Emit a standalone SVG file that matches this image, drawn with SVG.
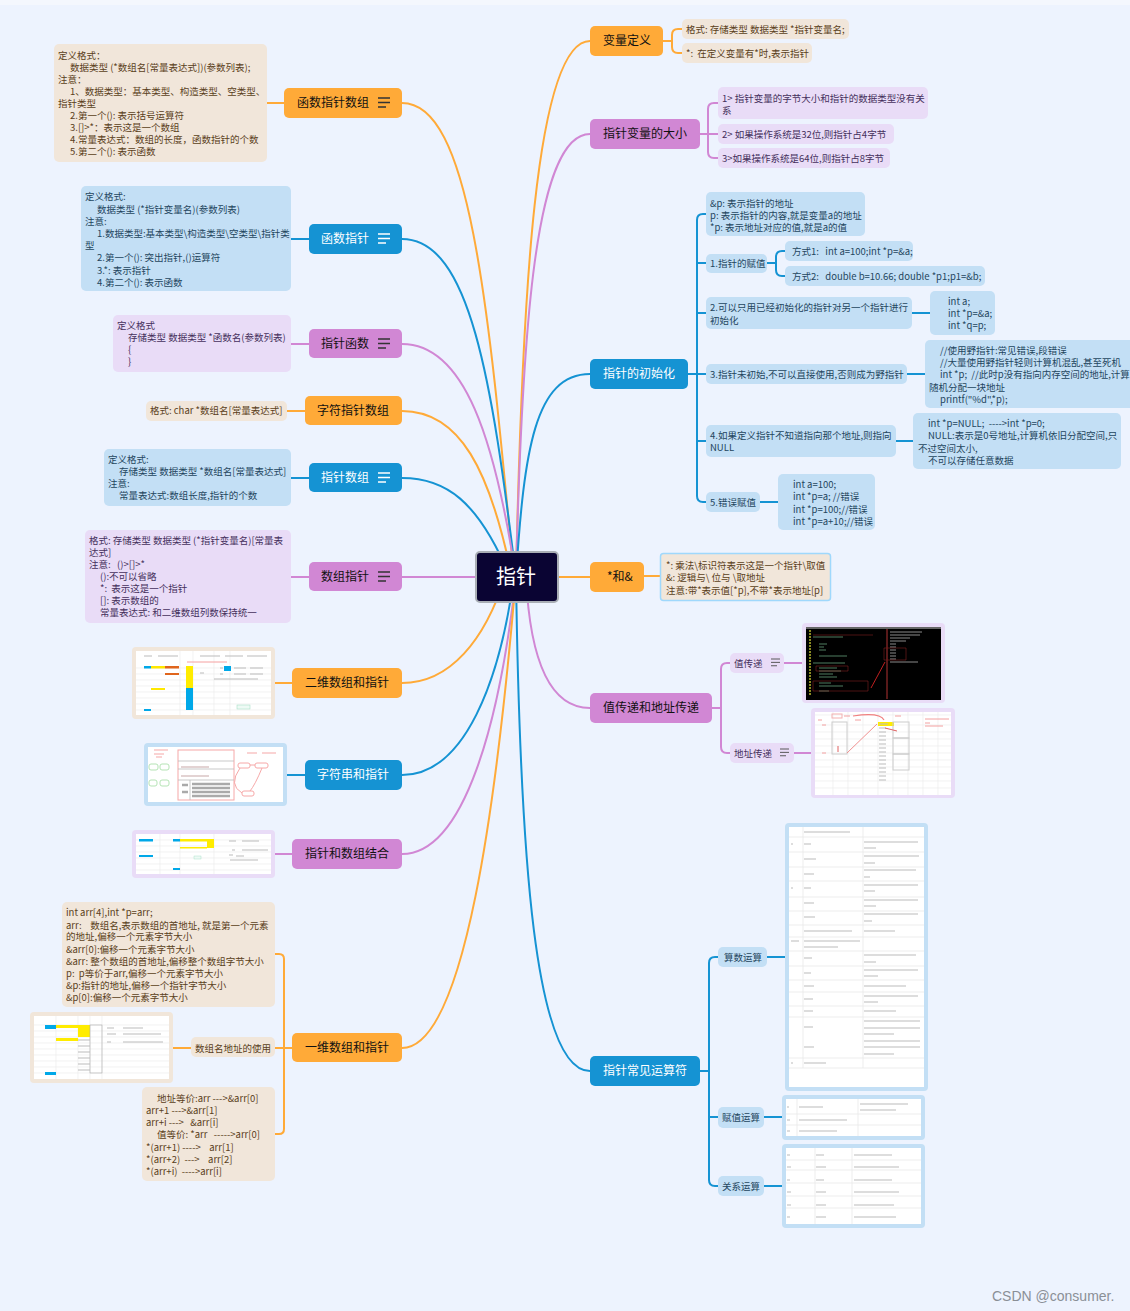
<svg xmlns="http://www.w3.org/2000/svg" width="1130" height="1311" viewBox="0 0 1130 1311">
<style>
text{font-family:"Noto Sans CJK SC","Noto Sans",sans-serif;white-space:pre}
.n{font-size:12px;fill:#111}
.w{font-size:12px;fill:#fff}
.d{font-size:9.5px}
.br{fill:#5a4020}.bl{fill:#24465e}.pu{fill:#45305c}
.fb{fill:#f1e6da}.fl{fill:#c3dff5}.fp{fill:#e9dcf7}
.no{fill:#ffaa38}.nb{fill:#1593d3}.np{fill:#d187d4}
.c{fill:none;stroke-width:2;stroke-linecap:round}
.so{stroke:#ffaa38}.sb{stroke:#1593d3}.sp{stroke:#d187d4}
.ic{stroke-width:1.3;fill:none}
.tb{fill:none;stroke:#bdbdbd;stroke-width:1.3;opacity:.7}
.gr{fill:none;stroke:#ececec;stroke-width:.7}
</style>
<defs>
<filter id="bl" x="-5%" y="-5%" width="110%" height="110%"><feGaussianBlur stdDeviation=".45"/></filter>
<path id="icon" d="M0 0h12M0 4.5h12M0 9h8"/>
</defs>
<rect width="1130" height="1311" fill="#edf3fe"/>
<rect width="1130" height="5" fill="#f4f7fd"/>

<g id="connectors">
<path class="c so" d="M402 103C470 103 488 300 514 577"/>
<path class="c sb" d="M402 239C470 239 492 380 516 577"/>
<path class="c sp" d="M402 344C465 344 495 440 516 577"/>
<path class="c so" d="M402 411C460 411 490 470 512 577"/>
<path class="c sb" d="M402 478C445 478 478 500 510 577"/>
<path class="c sp" d="M402 577H516"/>
<path class="c so" d="M402 683C450 683 485 640 505 577"/>
<path class="c sb" d="M402 775C465 775 500 680 514 577"/>
<path class="c sp" d="M402 854C465 854 500 720 516 577"/>
<path class="c so" d="M402 1048C465 1048 497 800 516 577"/>
<path class="c so" d="M516 577C522 300 535 41 590 41"/>
<path class="c sp" d="M516 577C522 330 535 134 590 134"/>
<path class="c sb" d="M516 577C524 450 535 374 590 374"/>
<path class="c so" d="M516 577H590"/>
<path class="c sp" d="M526 577C530 660 550 708 590 708"/>
<path class="c sb" d="M516 577C520 860 535 1071 590 1071"/>

<g class="c so">
<path d="M663 41H672M682 29H678Q672 29 672 35V47Q672 53 678 53H682"/>
<path d="M267 103H284M287 411H305M275 683H292M644 576H660"/>
<path d="M275 954H279Q284 954 284 959V1129Q284 1134 279 1134H275M173 1048H191M275 1048H292"/>
</g>
<g class="c sp">
<path d="M700 134H718M718 103H714Q708 103 708 109V152Q708 158 714 158H718"/>
<path d="M291 344H309M291 577H309M275 854H292"/>
<path d="M712 708H721M730 663H727Q721 663 721 669V747Q721 753 727 753H730M784 663H803M794 753H812"/>
</g>
<g class="c sb">
<path d="M291 239H309M291 478H309M287 775H305"/>
<path d="M688 374H706M706 214H703Q697 214 697 220V496Q697 502 703 502H706M697 263H706M697 313H706M697 441H706"/>
<path d="M767 263H776M785 251H782Q776 251 776 257V270Q776 276 782 276H785"/>
<path d="M912 313H930M907 374H925M896 441H913M760 502H778"/>
<path d="M700 1071H709M718 957H715Q709 957 709 963V1180Q709 1186 715 1186H718M709 1117H718M767 957H786M764 1117H782M764 1186H782"/>
</g>
</g>

<g id="root">
<rect x="476" y="552" width="82" height="50" rx="4" fill="#0a0433" stroke="#a9aeb5" stroke-width="2"/>
<text x="496" y="584" font-size="20" fill="#fff">指针</text>
</g>

<g id="n-hszzsz">
<rect class="fb" x="54" y="44" width="213" height="118" rx="5"/>
<g class="d br">
<text x="58" y="59">定义格式：</text>
<text x="70" y="71">数据类型 (*数组名[常量表达式])(参数列表);</text>
<text x="58" y="83">注意：</text>
<text x="70" y="95">1、数据类型：基本类型、构造类型、空类型、</text>
<text x="58" y="107">指针类型</text>
<text x="70" y="119">2.第一个(): 表示括号运算符</text>
<text x="70" y="131">3.[]&gt;*：表示这是一个数组</text>
<text x="70" y="143">4.常量表达式：数组的长度，函数指针的个数</text>
<text x="70" y="155">5.第二个(): 表示函数</text>
</g>
<rect class="no" x="284" y="88" width="118" height="30" rx="5"/>
<text class="n" x="297" y="107">函数指针数组</text>
<use href="#icon" x="378" y="98" class="ic" stroke="#333"/>
</g>

<g id="n-hszz">
<rect class="fl" x="81" y="186" width="210" height="105" rx="5"/>
<g class="d bl">
<text x="85" y="200">定义格式:</text>
<text x="97" y="213">数据类型 (*指针变量名)(参数列表)</text>
<text x="85" y="225">注意:</text>
<text x="97" y="237">1.数据类型:基本类型\构造类型\空类型\指针类</text>
<text x="85" y="249">型</text>
<text x="97" y="261">2.第一个(): 突出指针,()运算符</text>
<text x="97" y="274">3.*: 表示指针</text>
<text x="97" y="286">4.第二个(): 表示函数</text>
</g>
<rect class="nb" x="309" y="224" width="93" height="30" rx="5"/>
<text class="w" x="321" y="243">函数指针</text>
<use href="#icon" x="378" y="234" class="ic" stroke="#fff"/>
</g>

<g id="n-zzhs">
<rect class="fp" x="113" y="315" width="178" height="57" rx="5"/>
<g class="d pu">
<text x="117" y="329">定义格式</text>
<text x="128" y="341">存储类型 数据类型 *函数名(参数列表)</text>
<text x="128" y="353">{</text>
<text x="128" y="365">}</text>
</g>
<rect class="np" x="309" y="329" width="93" height="29" rx="5"/>
<text class="n" x="321" y="348">指针函数</text>
<use href="#icon" x="378" y="339" class="ic" stroke="#333"/>
</g>

<g id="n-zfzzsz">
<rect class="fb" x="146" y="401" width="141" height="20" rx="5"/>
<text class="d br" x="150" y="414">格式: char *数组名[常量表达式]</text>
<rect class="no" x="305" y="396" width="97" height="29" rx="5"/>
<text class="n" x="317" y="415">字符指针数组</text>
</g>

<g id="n-zzsz">
<rect class="fl" x="104" y="449" width="187" height="57" rx="5"/>
<g class="d bl">
<text x="108" y="463">定义格式:</text>
<text x="119" y="475">存储类型 数据类型 *数组名[常量表达式]</text>
<text x="108" y="487">注意:</text>
<text x="119" y="499">常量表达式:数组长度,指针的个数</text>
</g>
<rect class="nb" x="309" y="463" width="93" height="29" rx="5"/>
<text class="w" x="321" y="482">指针数组</text>
<use href="#icon" x="378" y="473" class="ic" stroke="#fff"/>
</g>

<g id="n-szzz">
<rect class="fp" x="85" y="530" width="206" height="93" rx="5"/>
<g class="d pu">
<text x="89" y="544">格式: 存储类型 数据类型 (*指针变量名)[常量表</text>
<text x="89" y="556">达式]</text>
<text x="89" y="568">注意:   ()&gt;[]&gt;*</text>
<text x="100" y="580">():不可以省略</text>
<text x="100" y="592">*:  表示这是一个指针</text>
<text x="100" y="604">[]: 表示数组的</text>
<text x="100" y="616">常量表达式: 和二维数组列数保持统一</text>
</g>
<rect class="np" x="309" y="562" width="93" height="29" rx="5"/>
<text class="n" x="321" y="581">数组指针</text>
<use href="#icon" x="378" y="572" class="ic" stroke="#333"/>
</g>

<g id="n-ewsz">
<rect class="fb" x="132" y="647" width="143" height="72" rx="4"/>
<rect x="136" y="651" width="135" height="64" fill="#fff"/>
<g filter="url(#bl)">
<path class="gr" d="M136 668h135M136 674h135M136 680h135M136 686h135M136 692h135M136 698h135M136 704h135M136 710h135M180 651v64M193 651v64M214 651v64M230 651v64"/>
<path class="tb" d="M144 656h8M158 656h20M200 656h20M225 656h18M247 656h20M200 673h4M220 668h3M234 668h12M250 668h13M220 674h3M234 674h12M250 674h13M214 679h44"/>
<rect x="144" y="666" width="7" height="2.5" fill="#00a8e8"/><rect x="151" y="666" width="14" height="2.5" fill="#ffe800"/><rect x="165" y="666" width="14" height="2.5" fill="#e0651c"/><rect x="165" y="673" width="14" height="2" fill="#e0651c"/>
<rect x="151" y="688" width="14" height="2" fill="#ffe800"/>
<rect x="186" y="666" width="7" height="22" fill="#ffec00"/><rect x="186" y="688" width="7" height="22" fill="#00a8e8"/>
<rect x="224" y="666" width="7" height="5" fill="#00a8e8"/>
<rect x="144" y="709" width="7" height="2" fill="#00a8e8"/>
<rect x="237" y="705" width="13" height="4" fill="#eefaf5" stroke="#9ddcc0" stroke-width=".5"/>
<path d="M187 662h40" stroke="#f5a0a0" stroke-width="1"/>
</g>
<rect class="no" x="292" y="668" width="110" height="30" rx="5"/>
<text class="n" x="305" y="687">二维数组和指针</text>
</g>

<g id="n-zfc">
<rect class="fl" x="144" y="743" width="143" height="63" rx="4"/>
<rect x="148" y="747" width="135" height="55" fill="#fff"/>
<g filter="url(#bl)">
<rect x="178" y="750" width="56" height="50" fill="none" stroke="#f6a8a8"/>
<path d="M178 761h56M178 769h56M178 780h56M190 780v20" stroke="#bbb" stroke-width=".8" fill="none"/>
<path d="M192 784h38M192 788h38M192 792h38M192 796h38M182 785h6M182 792h6" stroke="#aaa" stroke-width="2.4" fill="none"/>
<path d="M181 767h28M181 776h28" stroke="#c8a8a8" stroke-width="1.2"/>
<path d="M154 750h14M154 754h10M156 757h6M247 753h10M262 753h14" stroke="#f6a8a8" stroke-width="1.2"/>
<g fill="none" stroke="#b5e3b5" stroke-width="1"><rect x="149" y="764" width="9" height="6" rx="2"/><rect x="160" y="764" width="9" height="6" rx="2"/><rect x="149" y="780" width="8" height="6" rx="2"/><rect x="160" y="780" width="9" height="6" rx="2"/></g>
<g fill="none" stroke="#f6a8a8" stroke-width="1"><rect x="238" y="763" width="12" height="5" rx="2"/><rect x="255" y="763" width="13" height="5" rx="2"/><rect x="242" y="791" width="12" height="5" rx="2"/><path d="M240 768Q228 785 242 793M255 765H250M262 768Q255 785 250 791"/></g>
</g>
<rect class="nb" x="305" y="760" width="97" height="30" rx="5"/>
<text class="w" x="317" y="779">字符串和指针</text>
</g>

<g id="n-zzsz2">
<rect class="fp" x="132" y="830" width="143" height="48" rx="4"/>
<rect x="136" y="834" width="135" height="40" fill="#fff"/>
<g filter="url(#bl)">
<path class="gr" d="M136 840h135M136 846h135M136 852h135M136 858h135M136 864h135M136 870h135M160 834v40M180 834v40M214 834v40"/>
<rect x="139" y="839" width="14" height="2.5" fill="#00a8e8"/><rect x="173" y="839" width="7" height="2.5" fill="#00a8e8"/><rect x="180" y="839" width="34" height="2.5" fill="#ffec00"/><rect x="207" y="840" width="7" height="8" fill="#ffec00"/><rect x="180" y="847" width="27" height="1.5" fill="#ffec00"/>
<rect x="139" y="855" width="14" height="2" fill="#00a8e8"/><rect x="173" y="868" width="7" height="2" fill="#00a8e8"/>
<rect x="194" y="856" width="7" height="3" fill="#eefaf5" stroke="#9ddcc0" stroke-width=".4"/>
<path class="tb" d="M229 841h7M242 841h17M232 850h3M242 850h26M229 855h4M236 856h8M230 860h28"/>
</g>
<rect class="np" x="292" y="839" width="110" height="30" rx="5"/>
<text class="n" x="305" y="858">指针和数组结合</text>
</g>

<g id="n-ywsz">
<rect class="fb" x="62" y="902" width="213" height="105" rx="5"/>
<g class="d br">
<text x="66" y="916">int arr[4],int *p=arr;</text>
<text x="66" y="928.500">arr:    数组名,表示数组的首地址, 就是第一个元素</text>
<text x="66" y="940">的地址,偏移一个元素字节大小</text>
<text x="66" y="952.500">&amp;arr[0]:偏移一个元素字节大小</text>
<text x="66" y="964.500">&amp;arr: 整个数组的首地址,偏移整个数组字节大小</text>
<text x="66" y="976.500">p:  p等价于arr,偏移一个元素字节大小</text>
<text x="66" y="989">&amp;p:指针的地址,偏移一个指针字节大小</text>
<text x="66" y="1001">&amp;p[0]:偏移一个元素字节大小</text>
</g>
<rect class="fb" x="30" y="1012" width="143" height="71" rx="4"/>
<rect x="34" y="1016" width="135" height="63" fill="#fff"/>
<g filter="url(#bl)">
<path class="gr" d="M34 1025h135M34 1031h135M34 1037h135M34 1043h135M34 1049h135M34 1055h135M34 1061h135M34 1067h135M34 1073h135M56 1016v63M78 1016v63M90 1016v63M102 1016v63"/>
<rect x="45" y="1025" width="11" height="4" fill="#00a8e8"/><rect x="56" y="1025" width="22" height="3" fill="#ffec00"/><rect x="78" y="1025" width="12" height="12" fill="#ffec00"/><rect x="56" y="1038" width="22" height="3" fill="#ffec00"/>
<rect x="45" y="1072" width="11" height="3" fill="#00a8e8"/>
<rect x="90" y="1025" width="12" height="48" fill="none" stroke="#aaa" stroke-width=".6"/>
<path class="tb" d="M78 1040h12M78 1046h12M78 1052h12M78 1058h12M78 1064h12M78 1070h12M107 1028h7M123 1028h20M107 1034h9M123 1034h38M107 1042h4M123 1042h40"/>
</g>
<rect class="fb" x="191" y="1037" width="84" height="20" rx="5"/>
<text class="d br" x="195" y="1051.500">数组名地址的使用</text>
<rect class="fb" x="142" y="1087" width="133" height="94" rx="5"/>
<g class="d br">
<text x="157" y="1101.500">地址等价:arr ---&gt;&amp;arr[0]</text>
<text x="146" y="1113.500">arr+1 ---&gt;&amp;arr[1]</text>
<text x="146" y="1125.500">arr+i ---&gt;   &amp;arr[i]</text>
<text x="157" y="1137.500">值等价: *arr   -----&gt;arr[0]</text>
<text x="146" y="1150.500">*(arr+1) ----&gt;    arr[1]</text>
<text x="146" y="1162.500">*(arr+2)  ---&gt;    arr[2]</text>
<text x="146" y="1174.500">*(arr+i)  ----&gt;arr[i]</text>
</g>
<rect class="no" x="292" y="1033" width="110" height="29" rx="5"/>
<text class="n" x="305" y="1052">一维数组和指针</text>
</g>

<g id="n-blhy">
<rect class="no" x="590" y="26" width="73" height="30" rx="5"/>
<text class="n" x="603" y="45">变量定义</text>
<rect class="fb" x="682" y="19" width="167" height="20" rx="5"/>
<text class="d br" x="686" y="32.500">格式: 存储类型 数据类型 *指针变量名;</text>
<rect class="fb" x="682" y="43" width="130" height="20" rx="5"/>
<text class="d br" x="686" y="56.500">*:  在定义变量有*时,表示指针</text>
</g>

<g id="n-zzdx">
<rect class="np" x="590" y="119" width="110" height="30" rx="5"/>
<text class="n" x="603" y="138">指针变量的大小</text>
<rect class="fp" x="718" y="87" width="210" height="32" rx="5"/>
<text class="d pu" x="722" y="101.500">1&gt; 指针变量的字节大小和指针的数据类型没有关</text>
<text class="d pu" x="722" y="113.500">系</text>
<rect class="fp" x="718" y="124" width="176" height="20" rx="5"/>
<text class="d pu" x="722" y="137.500">2&gt; 如果操作系统是32位,则指针占4字节</text>
<rect class="fp" x="718" y="148" width="172" height="20" rx="5"/>
<text class="d pu" x="722" y="161.500">3&gt;如果操作系统是64位,则指针占8字节</text>
</g>

<g id="n-init">
<rect class="nb" x="590" y="359" width="98" height="30" rx="5"/>
<text class="w" x="603" y="378">指针的初始化</text>
<g class="fl">
<rect x="706" y="192" width="159" height="44" rx="5"/>
<rect x="706" y="254" width="61" height="19" rx="5"/>
<rect x="785" y="241" width="128" height="20" rx="5"/>
<rect x="785" y="266" width="200" height="20" rx="5"/>
<rect x="706" y="297" width="206" height="32" rx="5"/>
<rect x="930" y="291" width="65" height="44" rx="5"/>
<rect x="706" y="364" width="201" height="20" rx="5"/>
<rect x="925" y="340" width="215" height="68" rx="5"/>
<rect x="706" y="425" width="190" height="32" rx="5"/>
<rect x="913" y="413" width="208" height="56" rx="5"/>
<rect x="706" y="492" width="54" height="20" rx="5"/>
<rect x="778" y="474" width="97" height="56" rx="5"/>
</g>
<g class="d bl">
<text x="710" y="206.500">&amp;p: 表示指针的地址</text>
<text x="710" y="218.500">p: 表示指针的内容,就是变量a的地址</text>
<text x="710" y="230.500">*p: 表示地址对应的值,就是a的值</text>
<text x="710" y="267">1.指针的赋值</text>
<text x="792" y="254.500">方式1:   int a=100;int *p=&amp;a;</text>
<text x="792" y="280">方式2:   double b=10.66; double *p1;p1=&amp;b;</text>
<text x="710" y="310.500">2.可以只用已经初始化的指针对另一个指针进行</text>
<text x="710" y="323.500">初始化</text>
<text x="948" y="304.500">int a;</text>
<text x="948" y="317">int *p=&amp;a;</text>
<text x="948" y="329">int *q=p;</text>
<text x="710" y="377.500">3.指针未初始,不可以直接使用,否则成为野指针</text>
<text x="940" y="353.500">//使用野指针:常见错误,段错误</text>
<text x="940" y="365.500">//大量使用野指针轻则计算机混乱,甚至死机</text>
<text x="940" y="377.500">int *p;  //此时p没有指向内存空间的地址,计算</text>
<text x="929" y="390.500">随机分配一块地址</text>
<text x="940" y="402.500">printf("%d",*p);</text>
<text x="710" y="438.500">4.如果定义指针不知道指向那个地址,则指向</text>
<text x="710" y="451">NULL</text>
<text x="928" y="426.500">int *p=NULL;  ----&gt;int *p=0;</text>
<text x="928" y="438.500">NULL:表示是0号地址,计算机依旧分配空间,只</text>
<text x="918" y="451.500">不过空间太小,</text>
<text x="928" y="463.500">不可以存储任意数据</text>
<text x="710" y="505.500">5.错误赋值</text>
<text x="793" y="487.500">int a=100;</text>
<text x="793" y="499.500">int *p=a; //错误</text>
<text x="793" y="512.500">int *p=100;//错误</text>
<text x="793" y="524.500">int *p=a+10;//错误</text>
</g>
</g>

<g id="n-star">
<rect class="no" x="590" y="562" width="54" height="30" rx="5"/>
<text class="n" x="607" y="581">*和&amp;</text>
<rect class="fb" x="660.500" y="553.500" width="170" height="47" rx="3" stroke="#9fd8fc" stroke-width="1.500"/>
<g class="d br">
<text x="666" y="568.500">*: 乘法\标识符表示这是一个指针\取值</text>
<text x="666" y="580.500">&amp;: 逻辑与\ 位与 \取地址</text>
<text x="666" y="593.500">注意:带*表示值[*p],不带*表示地址[p]</text>
</g>
</g>

<g id="n-pass">
<rect class="np" x="590" y="693" width="122" height="30" rx="5"/>
<text class="n" x="603" y="712">值传递和地址传递</text>
<rect class="fp" x="730" y="653" width="54" height="20" rx="5"/>
<text class="d pu" x="734" y="667">值传递</text>
<use href="#icon" class="ic" stroke="#555" transform="translate(771 659) scale(.75)"/>
<rect class="fp" x="730" y="743" width="64" height="20" rx="5"/>
<text class="d pu" x="734" y="757">地址传递</text>
<use href="#icon" class="ic" stroke="#555" transform="translate(780 749) scale(.75)"/>
<rect class="fp" x="802" y="623" width="143" height="80" rx="4"/>
<rect x="806" y="627" width="135" height="73" fill="#000"/>
<g filter="url(#bl)">
<rect x="806" y="627" width="135" height="2" fill="#666"/>
<path d="M810 630v66" stroke="#8a8a20" stroke-width="2" stroke-dasharray="2 1" fill="none"/>
<path d="M813 637h30M819 644h8M819 647h5M819 650h7M819 656h28M813 663h32M819 668h18M819 671h22M819 674h14M819 677h18M819 683h12M819 686h24M819 691h10" stroke="#4f7f60" stroke-width="1" fill="none"/>
<path d="M890 632h32M890 635h30M890 638h20M890 641h16M890 644h6M890 647h6M890 650h6M890 653h6M890 656h6M890 659h6M890 662h28" stroke="#9a9a9a" stroke-width=".9" fill="none"/>
<path d="M887 629v70" stroke="#b03030" fill="none"/>
<path d="M871 688L885 662" stroke="#c02020" fill="none"/>
<path d="M816 666h32v5h-32zM813 681h55v10h-55zM884 648h22v12h-22zM813 635h60" stroke="#802020" stroke-width=".6" fill="none"/>
</g>
<rect class="fp" x="811" y="708" width="144" height="90" rx="4"/>
<rect x="815" y="712" width="136" height="83" fill="#fff"/>
<g filter="url(#bl)">
<path class="gr" d="M815 715h136M815 725h136M815 732h136M815 739h136M815 746h136M815 753h136M815 760h136M815 767h136M815 774h136M815 781h136M815 788h136M833 712v83M848 712v83M863 712v83M878 712v83M893 712v83M908 712v83M923 712v83M938 712v83"/>
<rect x="878" y="722" width="16" height="4" fill="#ffec00"/>
<path class="tb" d="M879 724h9M879 728h7M879 732h7M879 736h7M879 740h7M879 744h7M879 748h7M879 752h7M879 756h7M879 760h7M879 764h7M879 768h7M879 772h7M879 776h7M879 780h7"/>
<rect x="832" y="722" width="15" height="32" fill="none" stroke="#ccc"/>
<rect x="893" y="722" width="16" height="16" fill="none" stroke="#ccc"/><rect x="893" y="738" width="16" height="16" fill="none" stroke="#ccc"/><rect x="893" y="754" width="16" height="16" fill="none" stroke="#ccc"/>
<rect x="832" y="714" width="10" height="4" fill="none" stroke="#f3b0b0"/>
<path d="M847 753L877 724" stroke="#f09090" fill="none"/>
<path d="M884 720Q880 712 853 716" stroke="#f08080" stroke-width="1.200" fill="none"/>
<path d="M838 746V752M885 728L897 731" stroke="#e06060" fill="none"/>
<path d="M818 720h4M822 725h4M822 753h4M844 716h6M855 720h6M895 716h6M925 719h24M925 723h5M925 726h18" stroke="#f3a0a0" stroke-width="1" fill="none"/>
</g>
</g>

<g id="n-ops">
<rect class="nb" x="590" y="1056" width="110" height="30" rx="5"/>
<text class="w" x="603" y="1075">指针常见运算符</text>
<g class="fl">
<rect x="718" y="947" width="49" height="20" rx="5"/>
<rect x="718" y="1107" width="46" height="21" rx="5"/>
<rect x="718" y="1176" width="46" height="20" rx="5"/>
<rect x="785" y="823" width="143" height="268" rx="4"/>
<rect x="782" y="1095" width="143" height="45" rx="4"/>
<rect x="782" y="1144" width="143" height="84" rx="4"/>
</g>
<text class="d bl" x="724" y="960.500">算数运算</text>
<text class="d bl" x="722" y="1121">赋值运算</text>
<text class="d bl" x="722" y="1189.500">关系运算</text>
<rect x="789" y="827" width="135" height="260" fill="#fff"/>
<rect x="786" y="1099" width="135" height="37" fill="#fff"/>
<rect x="786" y="1148" width="135" height="76" fill="#fff"/>
<g filter="url(#bl)">
<path d="M789 837h135M789 852h135M789 867h135M789 881h135M789 897h135M789 911h135M789 925h135M789 937h135M789 951h135M789 966h135M789 980h135M789 992h135M789 1006h135M789 1017h135M789 1058h135M789 1068h135M803 827v241M863 827v241" fill="none" stroke="#e8e8e8" stroke-width=".8"/>
<path class="tb" d="M804 832h46M791 844h2M804 844h7M864 842h54M864 848h12M804 859h12M864 856h55M864 863h11M804 874h10M864 870h52M864 877h6M791 888h2M804 888h7M864 885h54M864 891h11M804 903h10M864 900h54M864 906h12M804 917h11M864 914h54M864 921h8M804 931h48M864 931h31M791 941h8M804 941h56M804 947h34M804 958h8M864 955h52M864 962h12M804 973h7M864 970h54M864 976h14M804 986h10M864 986h42M804 999h9M864 996h54M864 1002h14M804 1011h9M864 1011h32M804 1027h9M864 1021h56M864 1028h56M864 1034h30M804 1047h10M864 1041h56M864 1047h56M864 1054h30M791 1063h2M804 1063h22"/>
<path d="M786 1114h135M786 1125h135M797 1099v37M858 1099v37" fill="none" stroke="#e8e8e8" stroke-width=".8"/>
<path class="tb" d="M787 1107h2M799 1107h24M860 1104h48M860 1110h36M787 1120h3M799 1120h48M787 1131h3M799 1131h38"/>
<path d="M786 1160h135M786 1170h135M786 1183h135M786 1196h135M786 1208h135M815 1148v76M852 1148v76" fill="none" stroke="#e8e8e8" stroke-width=".8"/>
<path class="tb" d="M787 1155h3M816 1155h8M854 1155h38M787 1167h4M816 1167h10M854 1167h45M787 1180h3M816 1180h8M854 1180h38M787 1192h4M816 1192h10M854 1192h45M787 1205h4M816 1205h10M854 1205h40M787 1217h3M816 1217h10M854 1217h42"/>
</g>
</g>
<text x="992" y="1301" font-size="14" fill="#8a8f96" style="font-family:'Liberation Sans',sans-serif">CSDN @consumer.</text>
</svg>
